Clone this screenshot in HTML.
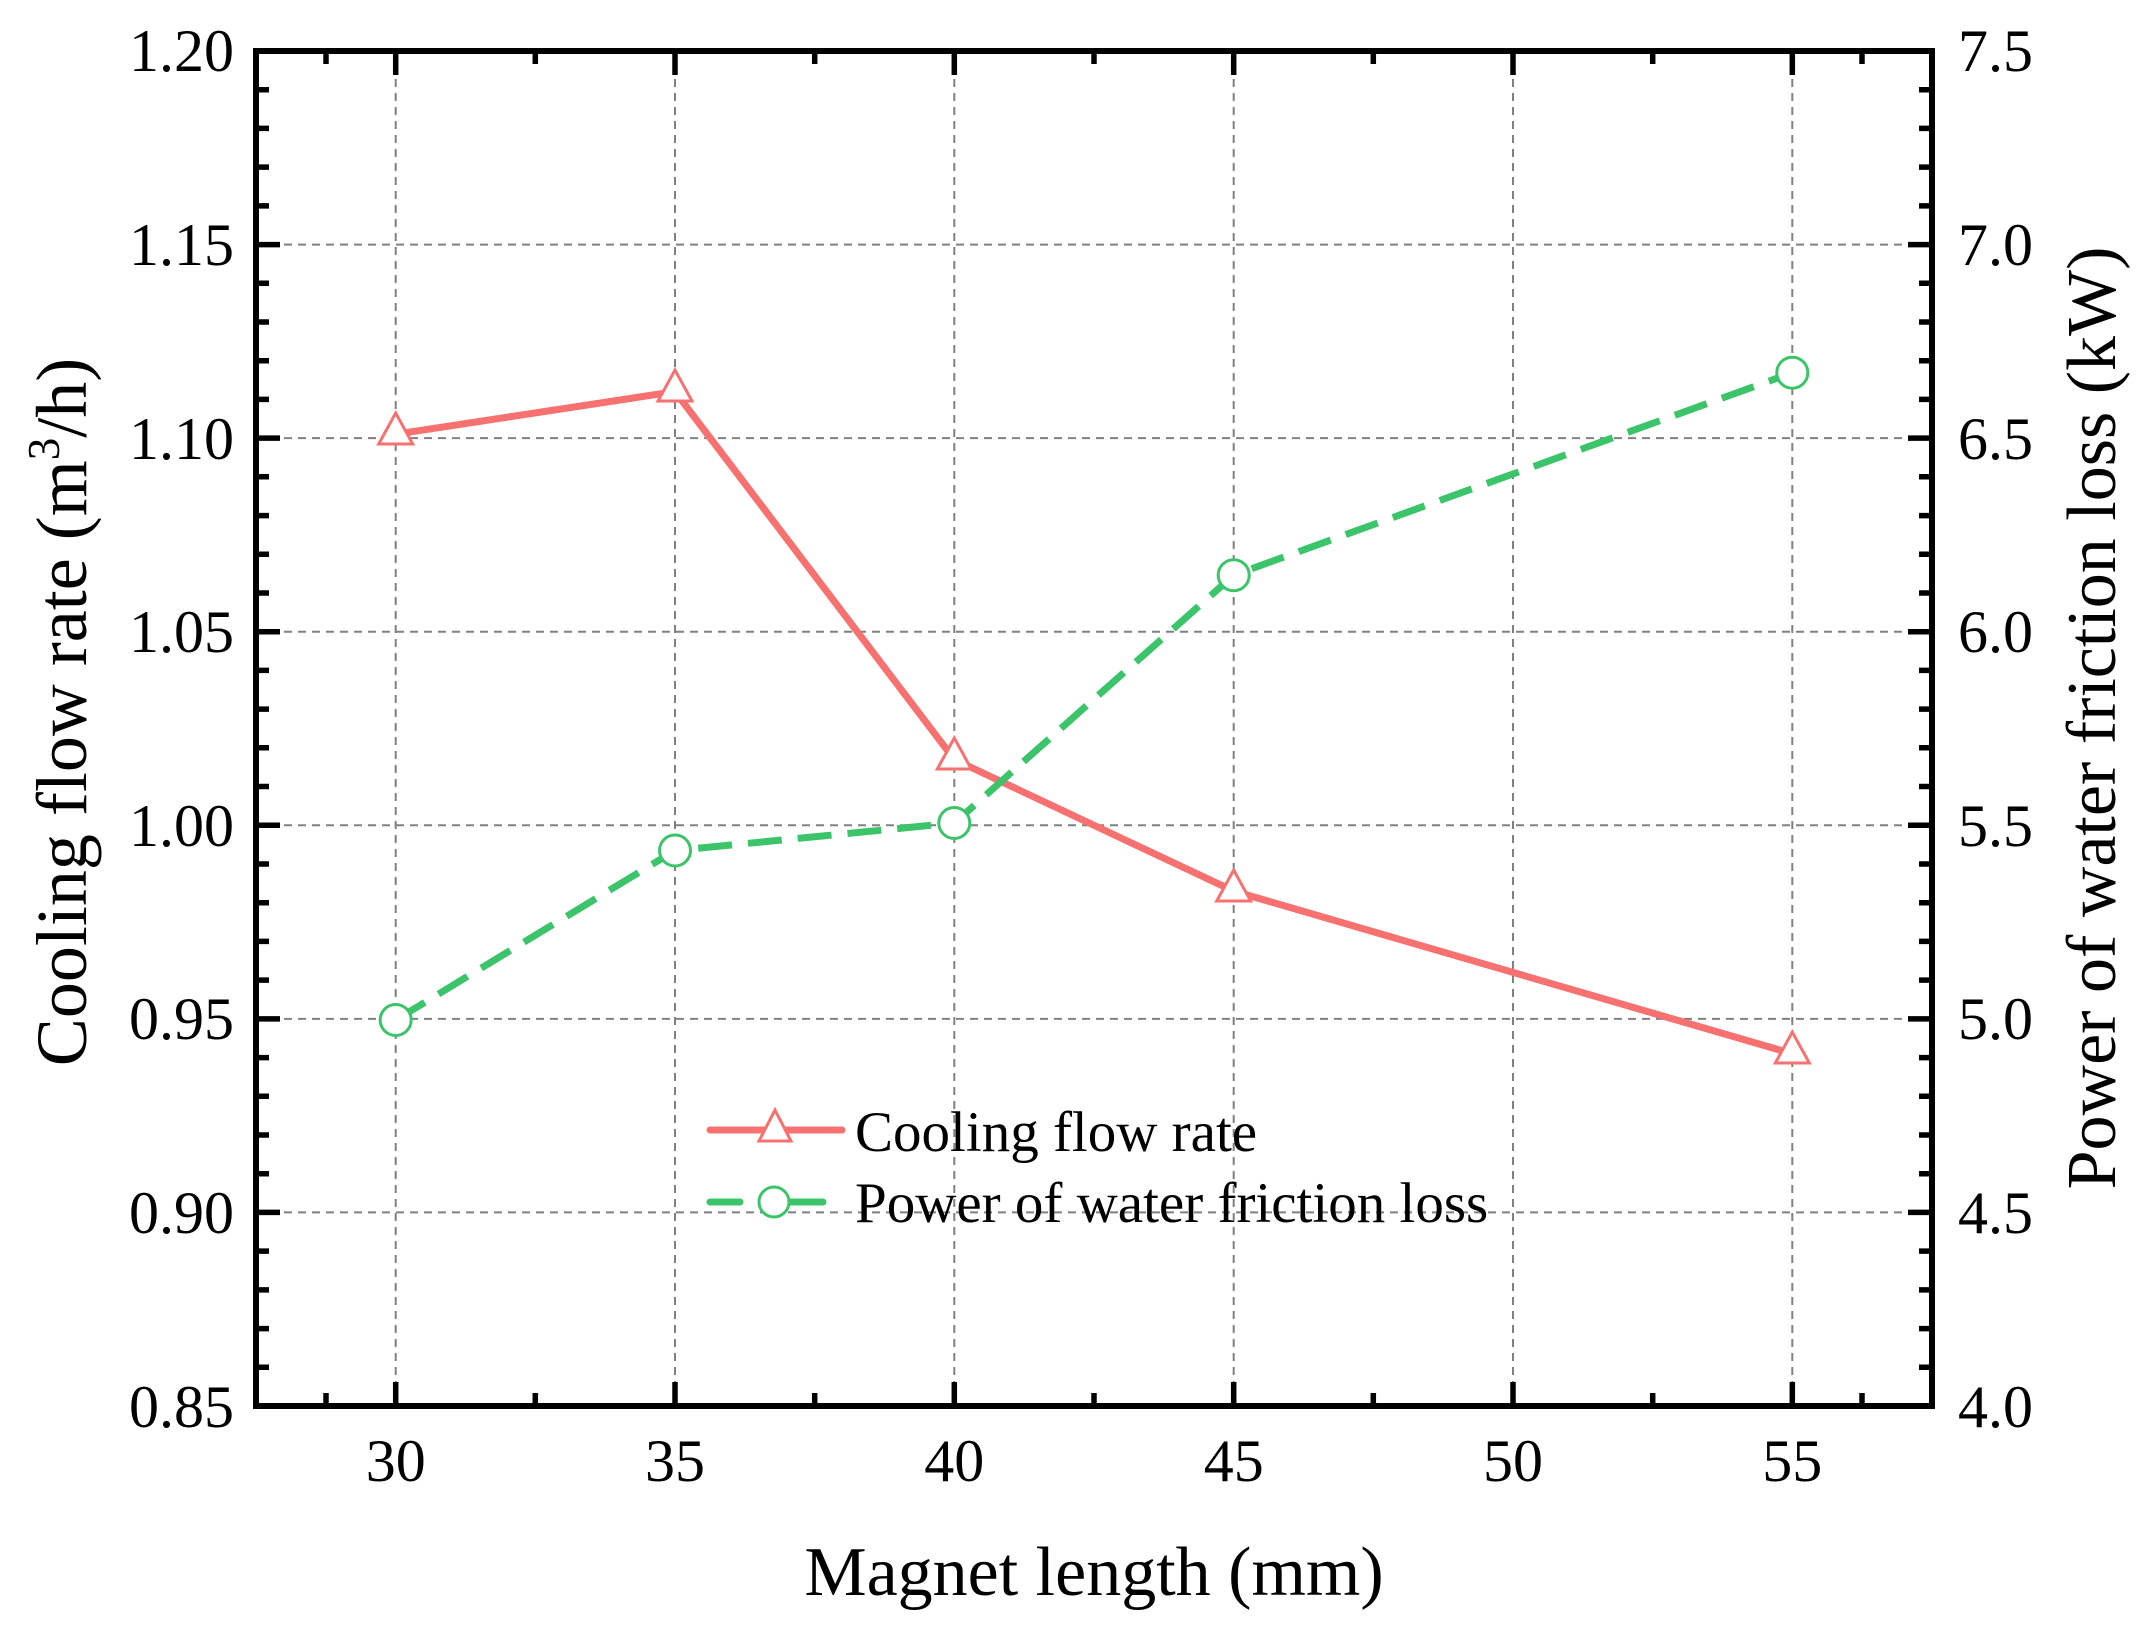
<!DOCTYPE html>
<html><head><meta charset="utf-8"><style>html,body{margin:0;padding:0;background:#fff}svg{display:block}</style></head><body>
<svg width="2146" height="1626" viewBox="0 0 2146 1626" xmlns="http://www.w3.org/2000/svg" font-family="'Liberation Serif', serif">
<g stroke="#808080" stroke-width="2" stroke-dasharray="8,6" fill="none">
<line x1="395.7" y1="51" x2="395.7" y2="1406"/><line x1="675" y1="51" x2="675" y2="1406"/><line x1="954.3" y1="51" x2="954.3" y2="1406"/><line x1="1233.7" y1="51" x2="1233.7" y2="1406"/><line x1="1513" y1="51" x2="1513" y2="1406"/><line x1="1792.3" y1="51" x2="1792.3" y2="1406"/>
<line x1="256" y1="244.6" x2="1932" y2="244.6"/><line x1="256" y1="438.1" x2="1932" y2="438.1"/><line x1="256" y1="631.7" x2="1932" y2="631.7"/><line x1="256" y1="825.3" x2="1932" y2="825.3"/><line x1="256" y1="1018.9" x2="1932" y2="1018.9"/><line x1="256" y1="1212.4" x2="1932" y2="1212.4"/>
</g>
<g stroke="#000" stroke-width="5.5">
<path d="M395.7 1406v-24M675 1406v-24M954.3 1406v-24M1233.7 1406v-24M1513 1406v-24M1792.3 1406v-24M395.7 51v24M675 51v24M954.3 51v24M1233.7 51v24M1513 51v24M1792.3 51v24"/>
<path d="M326 1406v-13M535.3 1406v-13M814.7 1406v-13M1094 1406v-13M1373.3 1406v-13M1652.7 1406v-13M1862 1406v-13M326 51v13M535.3 51v13M814.7 51v13M1094 51v13M1373.3 51v13M1652.7 51v13M1862 51v13"/>
<path d="M256 244.6h24M256 438.1h24M256 631.7h24M256 825.3h24M256 1018.9h24M256 1212.4h24M1932 244.6h-24M1932 438.1h-24M1932 631.7h-24M1932 825.3h-24M1932 1018.9h-24M1932 1212.4h-24"/>
<path d="M256 89.7h13M256 128.4h13M256 167.1h13M256 205.9h13M256 283.3h13M256 322h13M256 360.7h13M256 399.4h13M256 476.8h13M256 515.6h13M256 554.3h13M256 593h13M256 670.4h13M256 709.1h13M256 747.8h13M256 786.5h13M256 864h13M256 902.7h13M256 941.4h13M256 980.1h13M256 1057.6h13M256 1096.3h13M256 1135h13M256 1173.7h13M256 1251.1h13M256 1289.9h13M256 1328.6h13M256 1367.3h13"/>
<path d="M1932 89.7h-13M1932 128.4h-13M1932 167.1h-13M1932 205.9h-13M1932 283.3h-13M1932 322h-13M1932 360.7h-13M1932 399.4h-13M1932 476.8h-13M1932 515.6h-13M1932 554.3h-13M1932 593h-13M1932 670.4h-13M1932 709.1h-13M1932 747.8h-13M1932 786.5h-13M1932 864h-13M1932 902.7h-13M1932 941.4h-13M1932 980.1h-13M1932 1057.6h-13M1932 1096.3h-13M1932 1135h-13M1932 1173.7h-13M1932 1251.1h-13M1932 1289.9h-13M1932 1328.6h-13M1932 1367.3h-13"/>
</g>
<rect x="256" y="51" width="1676" height="1355" fill="none" stroke="#000" stroke-width="6"/>
<polyline points="395.7,434.2 675,391.6 954.3,759.5 1233.7,891.1 1792.3,1053.7" fill="none" stroke="#F87171" stroke-width="7" stroke-linejoin="round"/>
<polyline points="395.7,1020 675,850.5 954.3,823 1233.7,575.2 1792.3,372.7" fill="none" stroke="#3CC46A" stroke-width="7" stroke-dasharray="34,16"/>
<g fill="#fff" stroke="#F87171" stroke-width="3">
<polygon points="395.7,413 378.7,444 412.7,444"/><polygon points="675,370 658,401 692,401"/><polygon points="954.3,738 937.3,769 971.3,769"/><polygon points="1233.7,870 1216.7,901 1250.7,901"/><polygon points="1792.3,1032 1775.3,1063 1809.3,1063"/>
</g>
<g fill="#fff" stroke="#3CC46A" stroke-width="3">
<circle cx="395.7" cy="1020" r="15.5"/><circle cx="675" cy="850.5" r="15.5"/><circle cx="954.3" cy="823" r="15.5"/><circle cx="1233.7" cy="575.2" r="15.5"/><circle cx="1792.3" cy="372.7" r="15.5"/>
</g>
<line x1="710" y1="1130" x2="842" y2="1130" stroke="#F87171" stroke-width="7" stroke-linecap="round"/>
<polygon points="775,1110 759,1141 791,1141" fill="#fff" stroke="#F87171" stroke-width="3"/>
<line x1="710" y1="1202" x2="740" y2="1202" stroke="#3CC46A" stroke-width="7" stroke-linecap="round"/>
<line x1="790" y1="1202" x2="823" y2="1202" stroke="#3CC46A" stroke-width="7" stroke-linecap="round"/>
<circle cx="774" cy="1202" r="15" fill="#fff" stroke="#3CC46A" stroke-width="3"/>
<g font-size="57" fill="#000">
<text x="855" y="1151">Cooling flow rate</text>
<text x="855" y="1222">Power of water friction loss</text>
</g>
<g font-size="60" text-anchor="end">
<text x="234" y="71">1.20</text><text x="234" y="265">1.15</text><text x="234" y="459">1.10</text><text x="234" y="652">1.05</text><text x="234" y="846">1.00</text><text x="234" y="1039">0.95</text><text x="234" y="1233">0.90</text><text x="234" y="1427">0.85</text>
</g>
<g font-size="60">
<text x="1958" y="71">7.5</text><text x="1958" y="265">7.0</text><text x="1958" y="459">6.5</text><text x="1958" y="652">6.0</text><text x="1958" y="846">5.5</text><text x="1958" y="1039">5.0</text><text x="1958" y="1233">4.5</text><text x="1958" y="1427">4.0</text>
</g>
<g font-size="60" text-anchor="middle">
<text x="395.7" y="1481">30</text><text x="675" y="1481">35</text><text x="954.3" y="1481">40</text><text x="1233.7" y="1481">45</text><text x="1513" y="1481">50</text><text x="1792.3" y="1481">55</text>
</g>
<text x="1094" y="1595" font-size="70" text-anchor="middle">Magnet length (mm)</text>
<text transform="translate(86,712) rotate(-90)" font-size="72" text-anchor="middle">Cooling flow rate (m<tspan font-size="45" dy="-27">3</tspan><tspan dy="27">/h)</tspan></text>
<text transform="translate(2115,718) rotate(-90)" font-size="70" text-anchor="middle">Power of water friction loss (kW)</text>
</svg>
</body></html>
